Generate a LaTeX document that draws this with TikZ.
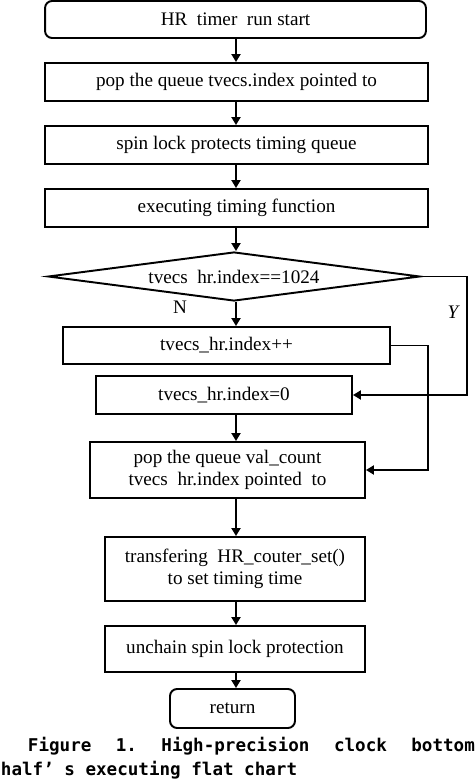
\documentclass[tikz,border=0pt]{standalone}
\usepackage{fontspec}
\setmainfont{Liberation Serif}
\newfontfamily\capfont{DejaVu Sans Mono}
\usetikzlibrary{arrows.meta,shapes.geometric}

\begin{document}
\begin{tikzpicture}[x=0.02cm,y=-0.02cm,>={Triangle[length=0.16cm,width=0.18cm]},
  font=\fontsize{10.9}{12.5}\selectfont,line width=1.1pt,
  flowbox/.style={draw,rectangle,inner sep=0pt,align=center},
  endbox/.style={flowbox,rounded corners=4pt},
  testbox/.style={draw,diamond,inner sep=0pt,aspect=7.5},
  caption/.style={anchor=base west,inner sep=0pt,font=\capfont\bfseries\fontsize{10}{12}\selectfont}]
\useasboundingbox (0,0) rectangle (474,780);
\node[endbox,minimum width=7.62cm,minimum height=0.74cm] (start) at (235.5,19.5) {HR\ \ timer\ \ run start};
\node[flowbox,minimum width=7.66cm,minimum height=0.76cm] (pop1) at (236.5,82) {pop the queue tvecs.index pointed to};
\node[flowbox,minimum width=7.66cm,minimum height=0.76cm] (spin) at (236.5,145) {spin lock protects timing queue};
\node[flowbox,minimum width=7.66cm,minimum height=0.76cm] (exec) at (236.5,208) {executing timing function};
\node[testbox,minimum width=7.44cm,minimum height=0.98cm] (dec) at (234,276.5) {tvecs\ \ hr.index==1024};
\node[flowbox,minimum width=6.54cm,minimum height=0.74cm] (inc) at (226.5,345.5) {tvecs\_hr.index++};
\node[flowbox,minimum width=5.12cm,minimum height=0.76cm] (zero) at (224,395) {tvecs\_hr.index=0};
\node[flowbox,minimum width=5.5cm,minimum height=1.12cm] (pop2) at (227.5,470) {pop the queue val\_count\\tvecs\ \ hr.index pointed\ \ to};
\node[flowbox,minimum width=5.2cm,minimum height=1.28cm] (set) at (235,569) {transfering\ \ HR\_couter\_set()\\to set timing time};
\node[flowbox,minimum width=5.2cm,minimum height=0.92cm] (unchain) at (235,649) {unchain spin lock protection};
\node[endbox,minimum width=2.5cm,minimum height=0.78cm] (ret) at (232.5,708.5) {return};
\node (nlab) at (180,307) {N};
\node (ylab) at (453,312) {\itshape Y};
\coordinate (axis) at (236,0);
\coordinate (yside) at (467,0);
\coordinate (nside) at (428,0);
\draw[->] (axis |- start.south) -- (axis |- pop1.north);
\draw[->] (axis |- pop1.south) -- (axis |- spin.north);
\draw[->] (axis |- spin.south) -- (axis |- exec.north);
\draw[->] (axis |- exec.south) -- (axis |- dec.north);
\draw[->] (axis |- dec.south) -- (axis |- inc.north);
\draw[->] (dec.east) -- (dec.east -| yside) |- (zero.east);
\draw[->] (inc.east) -- (inc.east -| nside) |- (pop2.east);
\draw[->] (axis |- zero.south) -- (axis |- pop2.north);
\draw[->] (axis |- pop2.south) -- (axis |- set.north);
\draw[->] (axis |- set.south) -- (axis |- unchain.north);
\draw[->] (axis |- unchain.south) -- (axis |- ret.north);
\node[caption] (cap1) at (27,751) {\hbox to 8.94cm{Figure\hfill 1.\hfill High-precision\hfill clock\hfill bottom}};
\node[caption] (cap2) at (0,775) {half’ s executing flat chart};
\end{tikzpicture}
\end{document}
